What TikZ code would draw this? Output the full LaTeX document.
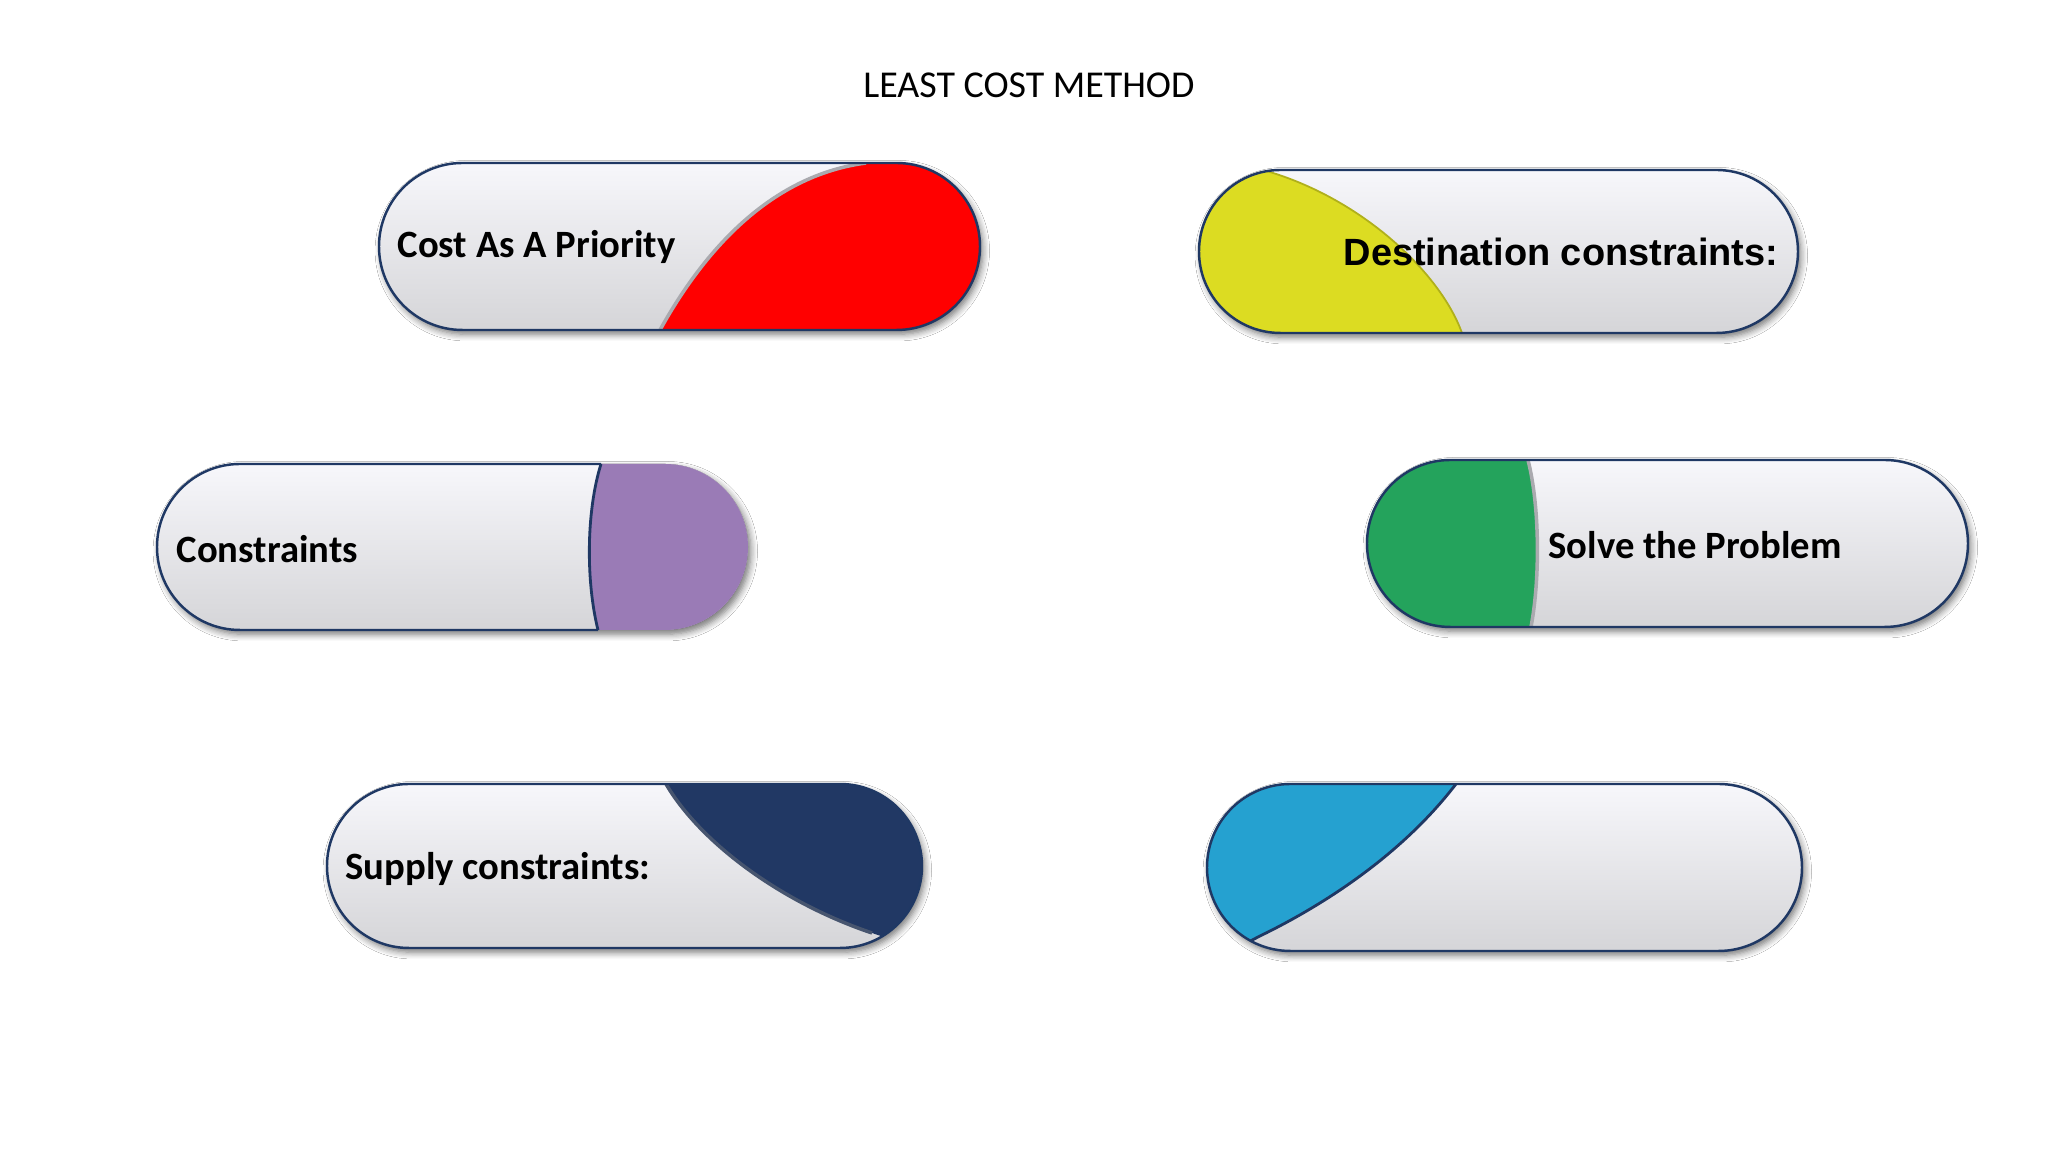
\documentclass[tikz,border=0pt]{standalone}
\usepackage{fontspec}
\setmainfont{Carlito}
\newfontfamily\arialfont{Liberation Sans}
\usetikzlibrary{shadows.blur}

\definecolor{pilltop}{RGB}{247,247,251}
\definecolor{pillbot}{RGB}{213,213,216}
\definecolor{pillline}{RGB}{31,56,100}
\definecolor{edgegray}{RGB}{170,170,175}
\definecolor{lcred}{RGB}{255,0,0}
\definecolor{lcyellow}{RGB}{220,220,34}
\definecolor{lcpurple}{RGB}{154,123,182}
\definecolor{lcgreen}{RGB}{36,163,92}
\definecolor{lcnavy}{RGB}{33,56,100}
\definecolor{lcblue}{RGB}{37,161,208}

\tikzset{
  pill/.style={rounded corners=#1, top color=pilltop, bottom color=pillbot,
    blur shadow={shadow blur steps=6, shadow xshift=0.8pt, shadow yshift=-1.2pt, shadow opacity=55}},
  pillrim/.style={rounded corners=#1, draw=pillline, line width=0.7pt},
  bevel/.style={draw=edgegray, line width=1pt},
  pilltext/.style={anchor=west, inner sep=0pt, font=\bfseries\fontsize{11}{13}\selectfont}
}

\begin{document}
\begin{tikzpicture}
    \useasboundingbox (0,0) rectangle (20.48,11.52);
    \fill[white] (0,0) rectangle (20.48,11.52);

    \node (title) at (10.29,10.67) {\fontsize{10.8}{13}\selectfont LEAST COST METHOD};

    % cost as a priority
    \fill[pill=0.835cm] (3.79,8.22) rectangle (9.80,9.89);
    \begin{scope}
        \clip[rounded corners=0.835cm] (3.79,8.22) rectangle (9.80,9.89);
        \fill[lcred] (6.60,8.22) .. controls (6.95,8.85) and (7.6,9.75) .. (8.66,9.89)
            -- (8.66,10.1) -- (10.1,10.1) -- (10.1,8.0) -- (6.60,8.0) -- cycle;
        \draw[bevel] (6.60,8.22) .. controls (6.95,8.85) and (7.6,9.75) .. (8.66,9.89);
    \end{scope}
    \draw[pillrim=0.835cm] (3.79,8.22) rectangle (9.80,9.89);
    \node (cost) at (3.97,9.05) [pilltext] {Cost As A Priority};

    % destination constraints
    \fill[pill=0.815cm] (11.99,8.19) rectangle (17.98,9.82);
    \begin{scope}
        \clip[rounded corners=0.815cm] (11.99,8.19) rectangle (17.98,9.82);
        \fill[lcyellow] (12.63,9.82) .. controls (13.6,9.55) and (14.4,8.8) .. (14.62,8.19)
            -- (14.62,8.0) -- (11.8,8.0) -- (11.8,10.0) -- (12.63,10.0) -- cycle;
        \draw[draw=lcyellow!80!black, line width=0.5pt] (12.63,9.82) .. controls (13.6,9.55) and (14.4,8.8) .. (14.62,8.19);
    \end{scope}
    \draw[pillrim=0.815cm] (11.99,8.19) rectangle (17.98,9.82);
    \node (dest) at (13.43,9.0) [pilltext, font=\arialfont\bfseries\fontsize{10.8}{13}\selectfont] {Destination constraints:};

    % constraints
    \fill[pill=0.83cm] (1.57,5.22) rectangle (7.48,6.88);
    \begin{scope}
        \clip[rounded corners=0.83cm] (1.57,5.22) rectangle (7.48,6.88);
        \fill[lcpurple] (6.01,6.88) .. controls (5.86,6.4) and (5.86,5.7) .. (5.98,5.22)
            -- (5.98,5.0) -- (7.7,5.0) -- (7.7,7.1) -- (6.01,7.1) -- cycle;
    \end{scope}
    \draw[pillrim=0.83cm] (6.01,6.88) -- (1.57,6.88) -- (1.57,5.22) -- (5.98,5.22);
    \draw[pillline, line width=0.8pt] (6.01,6.88) .. controls (5.86,6.4) and (5.86,5.7) .. (5.98,5.22);
    \node (cons) at (1.76,6.03) [pilltext] {Constraints};

    % solve the problem
    \fill[pill=0.835cm] (13.67,5.25) rectangle (19.68,6.92);
    \begin{scope}
        \clip[rounded corners=0.835cm] (13.67,5.25) rectangle (19.68,6.92);
        \fill[lcgreen] (15.28,6.92) .. controls (15.40,6.45) and (15.40,5.72) .. (15.31,5.25)
            -- (15.31,5.0) -- (13.5,5.0) -- (13.5,7.1) -- (15.28,7.1) -- cycle;
        \draw[bevel] (15.28,6.92) .. controls (15.40,6.45) and (15.40,5.72) .. (15.31,5.25);
    \end{scope}
    \draw[pillrim=0.835cm] (13.67,5.25) rectangle (19.68,6.92);
    \node (solve) at (15.48,6.07) [pilltext] {Solve the Problem};

    % supply constraints
    \fill[pill=0.82cm] (3.27,2.04) rectangle (9.22,3.68);
    \begin{scope}
        \clip[rounded corners=0.82cm] (3.27,2.04) rectangle (9.22,3.68);
        \fill[lcnavy] (6.66,3.68) .. controls (7.0,3.1) and (7.8,2.5) .. (8.72,2.19)
            -- (9.1,2.06) -- (9.5,1.9) -- (9.5,3.9) -- (6.66,3.9) -- cycle;
        \draw[draw=lcnavy!60!gray, line width=1pt] (6.66,3.68) .. controls (7.0,3.1) and (7.8,2.5) .. (8.72,2.19);
    \end{scope}
    \draw[pillrim=0.82cm] (3.27,2.04) rectangle (9.22,3.68);
    \node (supply) at (3.45,2.83) [pilltext] {Supply constraints:};

    % empty pill
    \fill[pill=0.835cm] (12.07,2.01) rectangle (18.02,3.68);
    \begin{scope}
        \clip[rounded corners=0.835cm] (12.07,2.01) rectangle (18.02,3.68);
        \fill[lcblue] (12.3,2.0) -- (12.58,2.15) .. controls (13.2,2.45) and (14.0,2.95) .. (14.56,3.68)
            -- (14.56,3.9) -- (11.9,3.9) -- (11.9,1.9) -- (12.3,1.9) -- cycle;
        \draw[pillline, line width=0.8pt] (12.3,2.0) -- (12.58,2.15) .. controls (13.2,2.45) and (14.0,2.95) .. (14.56,3.68);
    \end{scope}
    \draw[pillrim=0.835cm] (12.07,2.01) rectangle (18.02,3.68);
\end{tikzpicture}
\end{document}
